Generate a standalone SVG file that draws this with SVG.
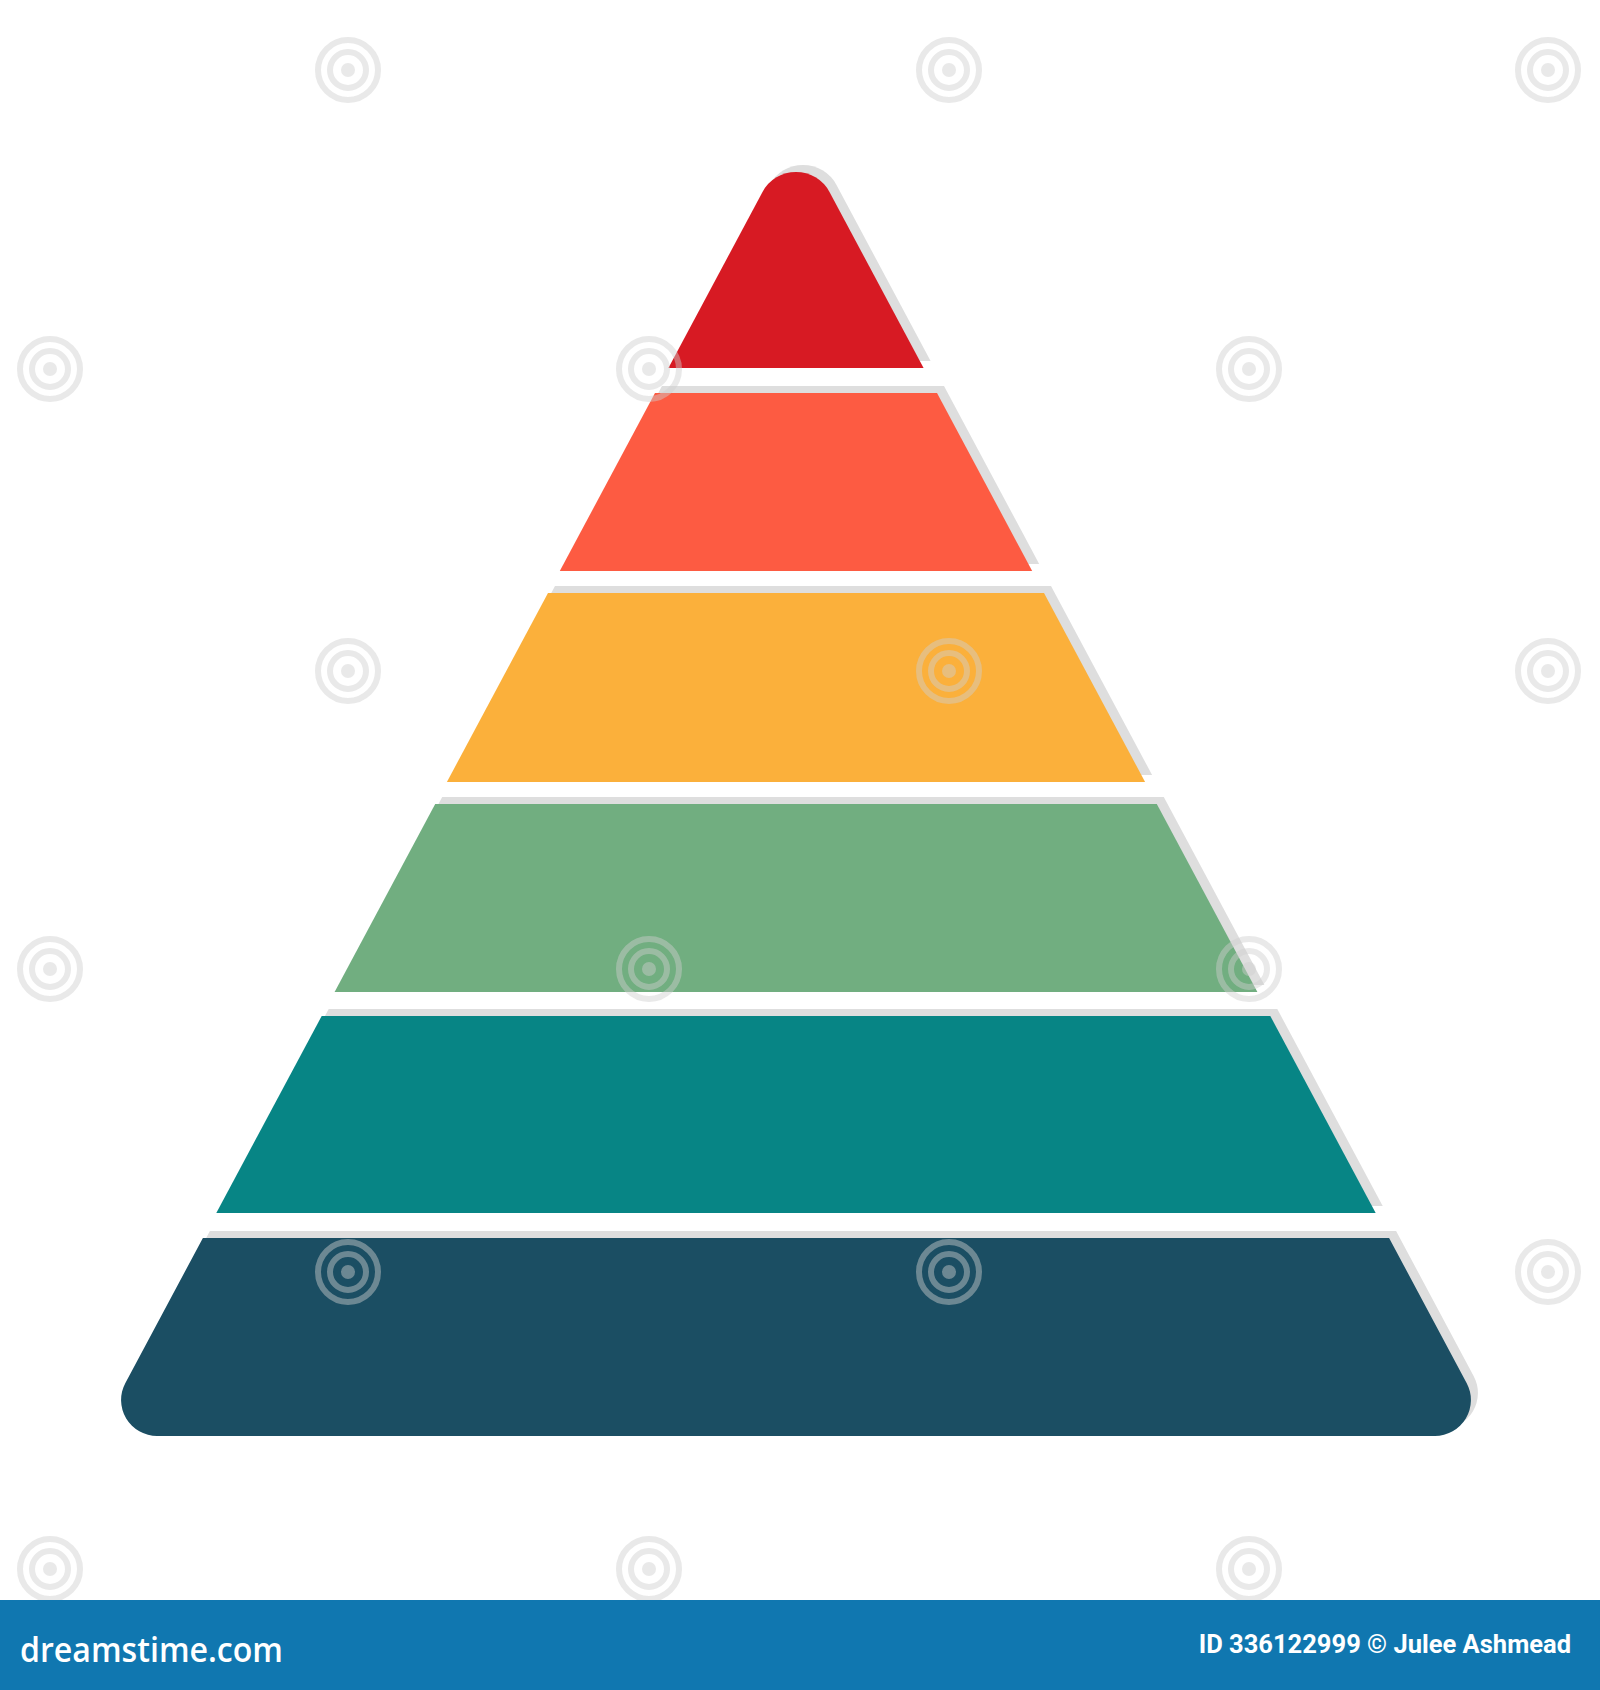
<svg xmlns="http://www.w3.org/2000/svg" width="1600" height="1690" viewBox="0 0 1600 1690">
<style>
.shadow{fill:#dedede}
.ring{fill:none;stroke:#cfcfcf;stroke-width:6}
.dot{fill:#cfcfcf}
.foot1{font-family:"Open Sans","Liberation Sans",sans-serif;font-size:34px;font-weight:600;fill:#ffffff}
.foot2{font-family:Roboto,"Liberation Sans",sans-serif;font-size:25.5px;font-weight:700;fill:#ffffff}
</style>
<defs>
<g id="spiral" opacity="0.45">
<circle class="ring" r="30" fill="none" stroke="#cfcfcf" stroke-width="6"/>
<circle class="ring" r="18" fill="none" stroke="#cfcfcf" stroke-width="6"/>
<circle class="dot" r="7" fill="#cfcfcf"/>
</g>
</defs>
<rect width="1600" height="1690" fill="#ffffff"/>

<g id="shadows" transform="translate(7,-7)">
<path class="shadow" d="M762.5 192 A38 38 0 0 1 829.5 192 L923.6 368 L668.4 368 Z"/>
<path class="shadow" d="M655 393 L937 393 L1032.2 571 L559.8 571 Z"/>
<path class="shadow" d="M548 593 L1044 593 L1145.1 782 L446.9 782 Z"/>
<path class="shadow" d="M435.2 804 L1156.8 804 L1257.4 992 L334.6 992 Z"/>
<path class="shadow" d="M321.7 1016 L1270.3 1016 L1375.7 1213 L216.3 1213 Z"/>
<path class="shadow" d="M202.9 1238 L1389.1 1238 L1466.6 1382.9 A36 36 0 0 1 1434.8 1436 L157.2 1436 A36 36 0 0 1 125.4 1382.9 Z"/>
</g>

<g id="layer1"><path fill="#d71a23" d="M762.5 192 A38 38 0 0 1 829.5 192 L923.6 368 L668.4 368 Z"/></g>
<g id="layer2"><path fill="#fd5b42" d="M655 393 L937 393 L1032.2 571 L559.8 571 Z"/></g>
<g id="layer3"><path fill="#fbb03b" d="M548 593 L1044 593 L1145.1 782 L446.9 782 Z"/></g>
<g id="layer4"><path fill="#71ae80" d="M435.2 804 L1156.8 804 L1257.4 992 L334.6 992 Z"/></g>
<g id="layer5"><path fill="#078585" d="M321.7 1016 L1270.3 1016 L1375.7 1213 L216.3 1213 Z"/></g>
<g id="layer6"><path fill="#1b4e63" d="M202.9 1238 L1389.1 1238 L1466.6 1382.9 A36 36 0 0 1 1434.8 1436 L157.2 1436 A36 36 0 0 1 125.4 1382.9 Z"/></g>

<g id="watermark">
<use href="#spiral" x="348" y="70"/>
<use href="#spiral" x="949" y="70"/>
<use href="#spiral" x="1548" y="70"/>
<use href="#spiral" x="50" y="369"/>
<use href="#spiral" x="649" y="369"/>
<use href="#spiral" x="1249" y="369"/>
<use href="#spiral" x="348" y="671"/>
<use href="#spiral" x="949" y="671"/>
<use href="#spiral" x="1548" y="671"/>
<use href="#spiral" x="50" y="969"/>
<use href="#spiral" x="649" y="969"/>
<use href="#spiral" x="1249" y="969"/>
<use href="#spiral" x="348" y="1272"/>
<use href="#spiral" x="949" y="1272"/>
<use href="#spiral" x="1548" y="1272"/>
<use href="#spiral" x="50" y="1569"/>
<use href="#spiral" x="649" y="1569"/>
<use href="#spiral" x="1249" y="1569"/>
</g>

<g id="footer">
<rect x="0" y="1600" width="1600" height="90" fill="#1077b0"/>
<text class="foot1" x="20" y="1662" textLength="263" lengthAdjust="spacingAndGlyphs">dreamstime.com</text>
<text class="foot2" x="1571" y="1653" text-anchor="end">ID 336122999 © Julee Ashmead</text>
</g>
</svg>
